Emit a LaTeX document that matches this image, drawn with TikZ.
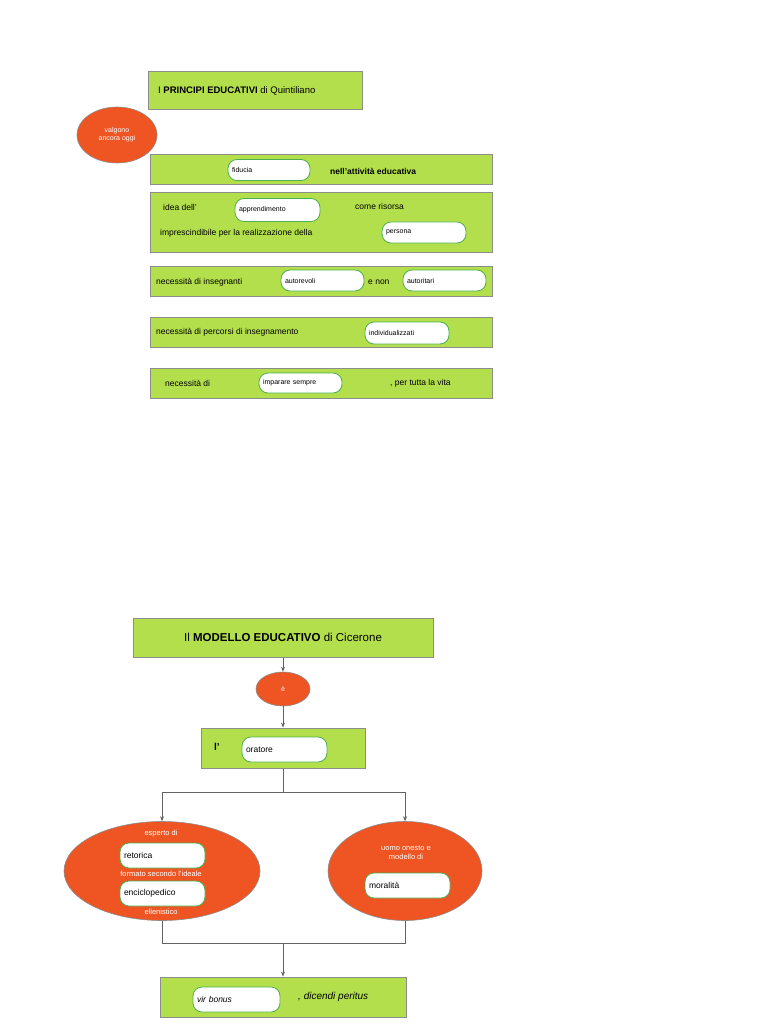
\documentclass[tikz,border=0pt]{standalone}
\usepackage{fontspec}
\setmainfont{Liberation Sans}
\usetikzlibrary{shapes.geometric,backgrounds,arrows.meta}
\definecolor{gr}{HTML}{B3DF4C}
\definecolor{bd}{HTML}{8C8C8C}
\definecolor{org}{HTML}{EE5522}
\definecolor{pg}{HTML}{4CAF50}
\begin{document}
\begin{tikzpicture}[x=1pt,y=-1pt,
 box/.style={draw=bd,line width=1pt,fill=gr,inner sep=0pt},
 ell/.style={ellipse,draw=bd,line width=0.6pt,fill=org,text=white,inner sep=0pt,align=center,font=\fontsize{7}{8}\selectfont},
 pill/.style={draw=pg,line width=0.8pt,fill=white,rounded corners=9pt,inner sep=0pt,align=left,font=\fontsize{7}{8}\selectfont},
 t/.style={inner sep=0pt,font=\fontsize{8.5}{10}\selectfont},
 ln/.style={draw=bd!70!black,line width=0.7pt},
 ar/.style={ln,-{Stealth[length=5pt,width=4pt]}}]
\useasboundingbox (0,0) rectangle (768,1024);
\fill[white] (0,0) rectangle (768,1024);
% ---- top ----
\node[box,minimum width=214,minimum height=38] (title) at (255,91) {};
\node[t,anchor=west,font=\fontsize{9.5}{11}\selectfont] (titlet) at (158,91) {I \textbf{PRINCIPI EDUCATIVI} di Quintiliano};
\node[ell,minimum width=80,minimum height=56] (valg) at (117,135) {valgono\\ancora oggi};
\node[box,minimum width=342,minimum height=30] (b1) at (321,170) {};
\node[box,minimum width=342,minimum height=59] (b2) at (321,222.5) {};
\node[box,minimum width=342,minimum height=30] (b3) at (321,281) {};
\node[box,minimum width=342,minimum height=30] (b4) at (321,332) {};
\node[box,minimum width=342,minimum height=30] (b5) at (321,383) {};
\coordinate (tl) at (117,83);
\begin{scope}[on background layer]
\draw[ln] (title.west |- tl) -- (tl) -- (117,383) -- (b5.west);
\draw[ln] (117,170) -- (b1.west);
\draw[ln] (117,224) -- (b2.west |- 0,224);
\draw[ln] (117,281) -- (b3.west);
\draw[ln] (117,332) -- (b4.west);
\end{scope}
% box1
\node[pill,minimum width=82,minimum height=21,text width=74] (p1) at (269,170) {fiducia};
\node[t,anchor=west] (t1) at (330,171) {\textbf{nell’attività educativa}};
% box2
\node[t,anchor=west] (t2a) at (163,207) {idea dell’};
\node[pill,minimum width=85,minimum height=23,text width=77] (p2) at (277.5,210) {apprendimento};
\node[t,anchor=west] (t2b) at (355,206) {come risorsa};
\node[t,anchor=west] (t2c) at (160,233) {imprescindibile per la realizzazione della};
\node[pill,minimum width=84,minimum height=21,text width=76] (p3) at (424,232.5) {persona};
% box3
\node[t,anchor=west] (t3a) at (156,282) {necessità di insegnanti};
\node[pill,minimum width=83,minimum height=21,text width=75] (p4) at (322.5,280.5) {autorevoli};
\node[t,anchor=west] (t3b) at (368,282) {e non};
\node[pill,minimum width=83,minimum height=21,text width=75] (p5) at (444.5,280.5) {autoritari};
% box4
\node[t,anchor=west] (t4) at (156,332) {necessità di percorsi di insegnamento};
\node[pill,minimum width=84,minimum height=22,text width=76] (p6) at (407,333) {individualizzati};
% box5
\node[t,anchor=west] (t5a) at (165,383) {necessità di};
\node[pill,minimum width=83,minimum height=20,text width=75] (p7) at (300.5,383) {imparare sempre};
\node[t,anchor=west] (t5b) at (390,383) {, per tutta la vita};
% ---- bottom ----
\node[box,minimum width=300,minimum height=39] (title2) at (283,637.5) {};
\node[t,font=\fontsize{11.5}{13}\selectfont] (title2t) at (283,637.5) {Il \textbf{MODELLO EDUCATIVO} di Cicerone};
\node[ell,minimum width=54,minimum height=34] (e) at (283,689) {è};
\node[box,minimum width=164,minimum height=40] (lor) at (283,748) {};
\node[t,font=\fontsize{10}{12}\selectfont\bfseries,anchor=west] (lap) at (214,747) {l’};
\node[pill,minimum width=85,minimum height=25,text width=77,font=\fontsize{8.5}{10}\selectfont] (p8) at (284.5,749.5) {oratore};
\node[ell,minimum width=196,minimum height=99] (el) at (162,871) {};
\node[ell,minimum width=154,minimum height=99] (er) at (405,871) {};
\node[t,text=white,font=\fontsize{7.5}{9}\selectfont] (l1) at (161,834) {esperto di};
\node[pill,minimum width=85,minimum height=25,text width=77,font=\fontsize{8.5}{10}\selectfont] (p9) at (162.5,855.5) {retorica};
\node[t,text=white,font=\fontsize{7.5}{9}\selectfont] (l2) at (161,874) {formato secondo l’ideale};
\node[pill,minimum width=85,minimum height=25,text width=77,font=\fontsize{8.5}{10}\selectfont] (p10) at (162.5,893.5) {enciclopedico};
\node[t,text=white,font=\fontsize{7.5}{9}\selectfont] (l3) at (161,912) {ellenistico};
\node[t,text=white,font=\fontsize{7.5}{9}\selectfont,align=center] (r1) at (406,853) {uomo onesto e\\modello di};
\node[pill,minimum width=85,minimum height=25,text width=77,font=\fontsize{8.5}{10}\selectfont] (p11) at (407.5,885.5) {moralità};
\node[box,minimum width=246,minimum height=40] (vb) at (283,997) {};
\node[pill,minimum width=87,minimum height=25,text width=79,font=\fontsize{8.5}{10}\selectfont\itshape] (p12) at (236.5,999.5) {vir bonus};
\node[t,anchor=west,font=\fontsize{10}{12}\selectfont\itshape] (dp) at (298,997) {, dicendi peritus};
\coordinate (s1) at (283,792);
\coordinate (s2) at (283,943);
\draw[ar] (title2) -- (e);
\draw[ar] (e) -- (lor);
\draw[ln] (lor) -- (s1);
\draw[ar] (s1) -| (el.north);
\draw[ar] (s1) -| (er.north);
\draw[ln] (el.south) |- (s2);
\draw[ln] (er.south) |- (s2);
\draw[ar] (s2) -- (vb);
\end{tikzpicture}
\end{document}
